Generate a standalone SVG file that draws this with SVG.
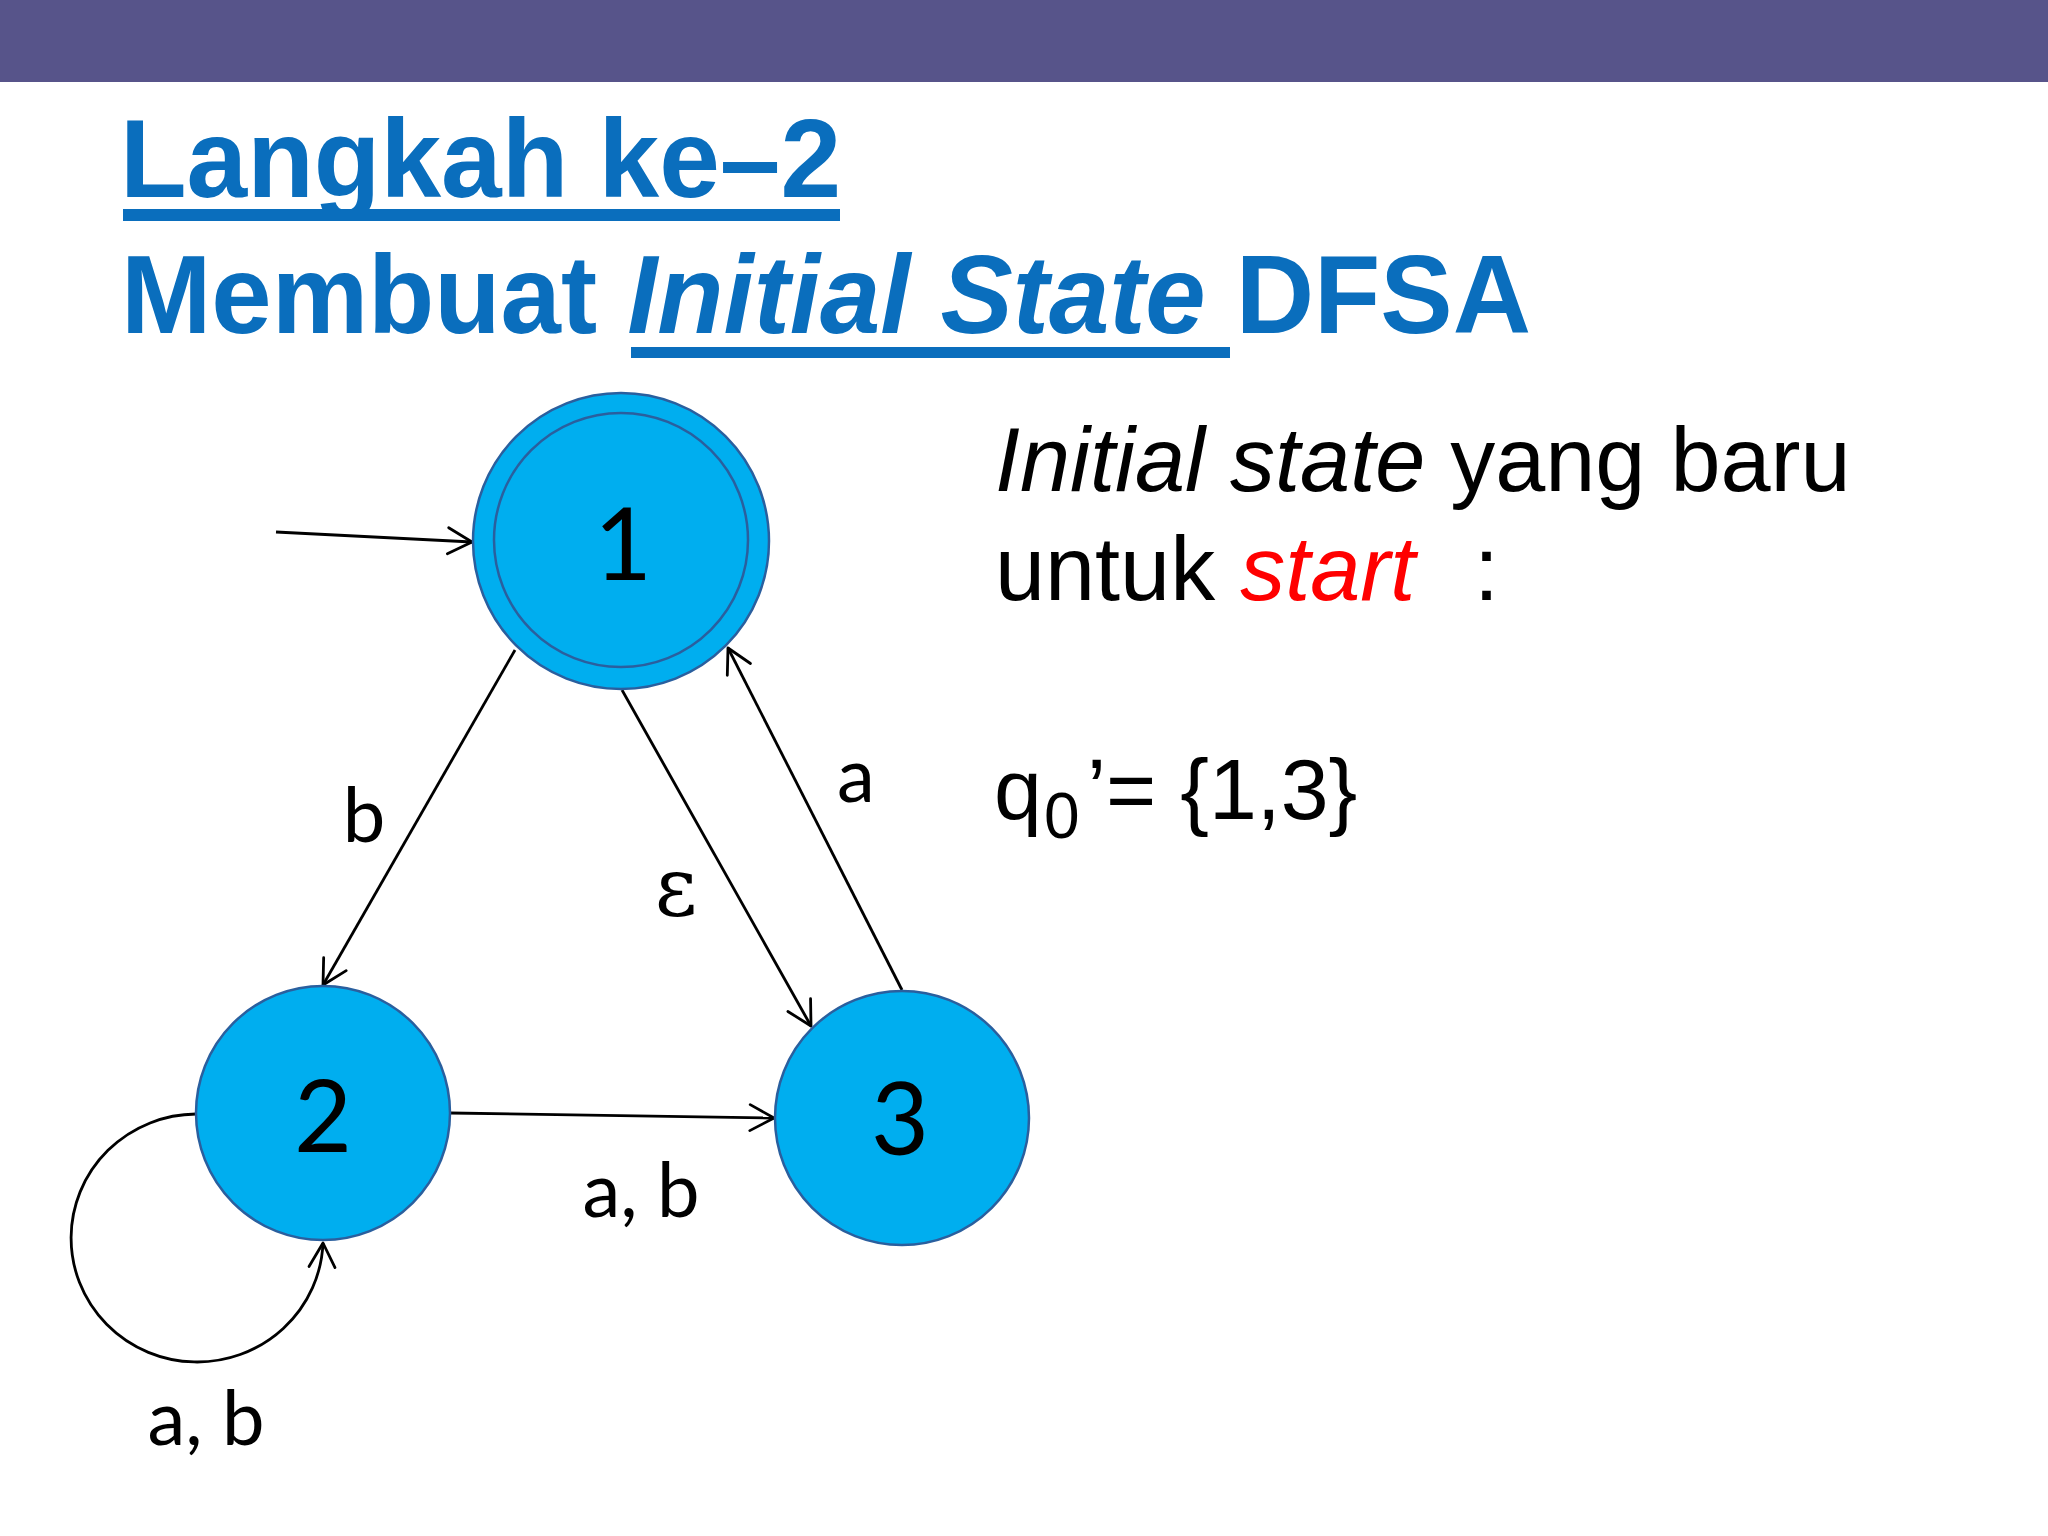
<svg xmlns="http://www.w3.org/2000/svg" width="2048" height="1536" viewBox="0 0 2048 1536">
  <style>
    .title { font-family: "Liberation Sans", Arial, sans-serif; font-weight: bold; font-size: 112px; fill: #0A6EBD; }
    .body { font-family: "Liberation Sans", Arial, sans-serif; fill: #000; }
    .node { fill: #00AEEF; stroke: #2A5F9E; stroke-width: 2.5; }
    .inner { fill: none; stroke: #2A5F9E; stroke-width: 2.5; }
    .digit { font-family: Lato, "Open Sans", sans-serif; font-size: 100px; fill: #000; text-anchor: middle; }
    .lbl { font-family: Lato, "Open Sans", sans-serif; font-size: 76px; fill: #000; text-anchor: middle; }
    .edge { fill: none; stroke: #000; stroke-width: 2.8; }
  </style>
  <defs>
    <marker id="arrow" markerUnits="userSpaceOnUse" markerWidth="34" markerHeight="34" viewBox="-30 -17 34 34" refX="0" refY="0" orient="auto" overflow="visible">
      <path d="M-24,-13 L0,0 L-24,13" fill="none" stroke="#000" stroke-width="2.8" stroke-linecap="round" stroke-linejoin="round"/>
    </marker>
  </defs>

  <rect x="0" y="0" width="2048" height="1536" fill="#FFFFFF"/>
  <rect id="header-bar" x="0" y="0" width="2048" height="82" fill="#57548A"/>

  <g id="title">
    <text class="title" x="120" y="197" textLength="721" lengthAdjust="spacingAndGlyphs">Langkah ke–2</text>
    <rect x="123" y="209" width="717" height="12" fill="#0A6EBD"/>
    <text class="title" x="121" y="333" textLength="1410" lengthAdjust="spacingAndGlyphs">Membuat <tspan font-style="italic">Initial State </tspan>DFSA</text>
    <rect x="631" y="347" width="599" height="11" fill="#0A6EBD"/>
  </g>

  <g id="description">
    <text class="body" x="995" y="491" font-size="90"><tspan font-style="italic">Initial state</tspan> yang baru</text>
    <text class="body" x="995" y="600" font-size="90">untuk <tspan font-style="italic" fill="#FF0000">start</tspan></text>
    <text class="body" x="1474" y="600" font-size="90">:</text>
    <text class="body" x="994" y="819" font-size="86">q</text>
    <text class="body" x="1044" y="838" font-size="64">0</text>
    <text class="body" x="1087" y="819" font-size="86">’= {1,3}</text>
  </g>

  <g id="connectors">
    <line id="e-init" class="edge" x1="276" y1="532" x2="472" y2="542" marker-end="url(#arrow)"/>
    <line id="e-1-2" class="edge" x1="515" y1="650" x2="323" y2="985" marker-end="url(#arrow)"/>
    <line id="e-1-3" class="edge" x1="622" y1="690" x2="811" y2="1026" marker-end="url(#arrow)"/>
    <line id="e-3-1" class="edge" x1="902" y1="990" x2="728" y2="648" marker-end="url(#arrow)"/>
    <line id="e-2-3" class="edge" x1="450" y1="1113" x2="774" y2="1118" marker-end="url(#arrow)"/>
    <path id="e-2-2" class="edge" d="M196,1114 A126,124 0 1 0 323,1243" marker-end="url(#arrow)"/>
    <text class="lbl" x="364" y="842">b</text>
    <text x="676" y="915" font-family="'DejaVu Serif', 'Liberation Serif', serif" font-size="82" text-anchor="middle" fill="#000">ε</text>
    <text class="lbl" x="856" y="802">a</text>
    <text class="lbl" x="641" y="1217">a, b</text>
    <text class="lbl" x="206" y="1445">a, b</text>
  </g>

  <g id="node-1">
    <circle class="node" cx="621" cy="541" r="148"/>
    <circle class="inner" cx="621" cy="540" r="127"/>
    <text class="digit" x="623" y="580">1</text>
  </g>
  <g id="node-2">
    <circle class="node" cx="323" cy="1113" r="127"/>
    <text class="digit" x="323" y="1152">2</text>
  </g>
  <g id="node-3">
    <circle class="node" cx="902" cy="1118" r="127"/>
    <text class="digit" x="900" y="1155">3</text>
  </g>
</svg>
